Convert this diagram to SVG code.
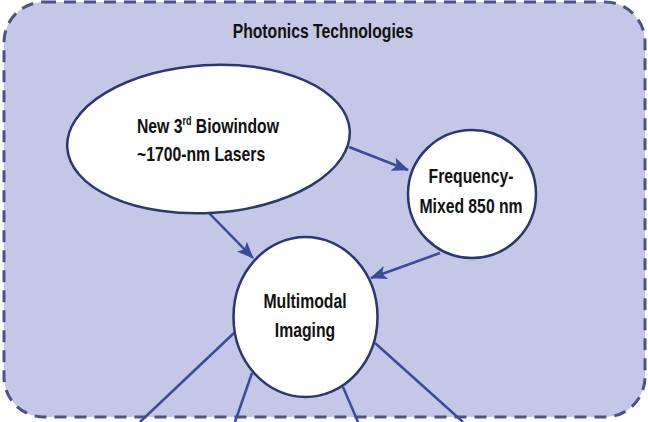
<svg xmlns="http://www.w3.org/2000/svg" width="648" height="422" viewBox="0 0 648 422">
  <defs>
    <style>
      .lbl { font-family: "Liberation Sans", Arial, sans-serif; font-weight: bold; font-size: 21px; fill: #111111; }
      .node { fill: #ffffff; stroke: #2c3670; stroke-width: 2.5; }
      .conn { stroke: #3d4a9c; stroke-width: 2.5; fill: none; }
    </style>
    <marker id="arr" markerWidth="17" markerHeight="14" refX="16" refY="7" orient="auto" markerUnits="userSpaceOnUse">
      <path d="M0,0 L17,7 L0,14 L4,7 Z" fill="#3d4a9c"/>
    </marker>
  </defs>
  <rect x="0" y="0" width="648" height="422" fill="#ffffff"/>
  <g id="photonics-technologies">
    <rect x="4" y="2" width="641" height="415" rx="40" ry="40" fill="#c4c8e6" stroke="#4a5387" stroke-width="3" stroke-dasharray="12 8"/>
    <text class="lbl" transform="translate(323,38) scale(0.75,1)" text-anchor="middle">Photonics Technologies</text>
  </g>
  <g id="connectors">
    <line class="conn" x1="349" y1="147" x2="408" y2="170" marker-end="url(#arr)"/>
    <line class="conn" x1="207" y1="211" x2="253" y2="258" marker-end="url(#arr)"/>
    <line class="conn" x1="440" y1="253" x2="371" y2="278" marker-end="url(#arr)"/>
    <line class="conn" x1="234" y1="333" x2="140" y2="422"/>
    <line class="conn" x1="252" y1="373" x2="235" y2="422"/>
    <line class="conn" x1="343" y1="387" x2="358" y2="422"/>
    <line class="conn" x1="375" y1="343" x2="463" y2="422"/>
  </g>
  <g id="lasers">
    <ellipse class="node" cx="208.5" cy="139" rx="141.5" ry="74" transform="rotate(-3.5 208.5 139)"/>
    <text class="lbl" transform="translate(137,133) scale(0.75,1)">New 3<tspan font-size="12" dy="-8">rd</tspan><tspan dy="8"> Biowindow</tspan></text>
    <text class="lbl" transform="translate(137,161) scale(0.75,1)">~1700-nm Lasers</text>
  </g>
  <g id="frequency-mixed">
    <circle class="node" cx="472" cy="194" r="64"/>
    <text class="lbl" transform="translate(471,183) scale(0.75,1)" text-anchor="middle">Frequency-</text>
    <text class="lbl" transform="translate(471,213) scale(0.75,1)" text-anchor="middle">Mixed 850 nm</text>
  </g>
  <g id="multimodal-imaging">
    <ellipse class="node" cx="305.5" cy="317" rx="72" ry="80"/>
    <text class="lbl" transform="translate(305,308) scale(0.75,1)" text-anchor="middle">Multimodal</text>
    <text class="lbl" transform="translate(305,337) scale(0.75,1)" text-anchor="middle">Imaging</text>
  </g>
</svg>
